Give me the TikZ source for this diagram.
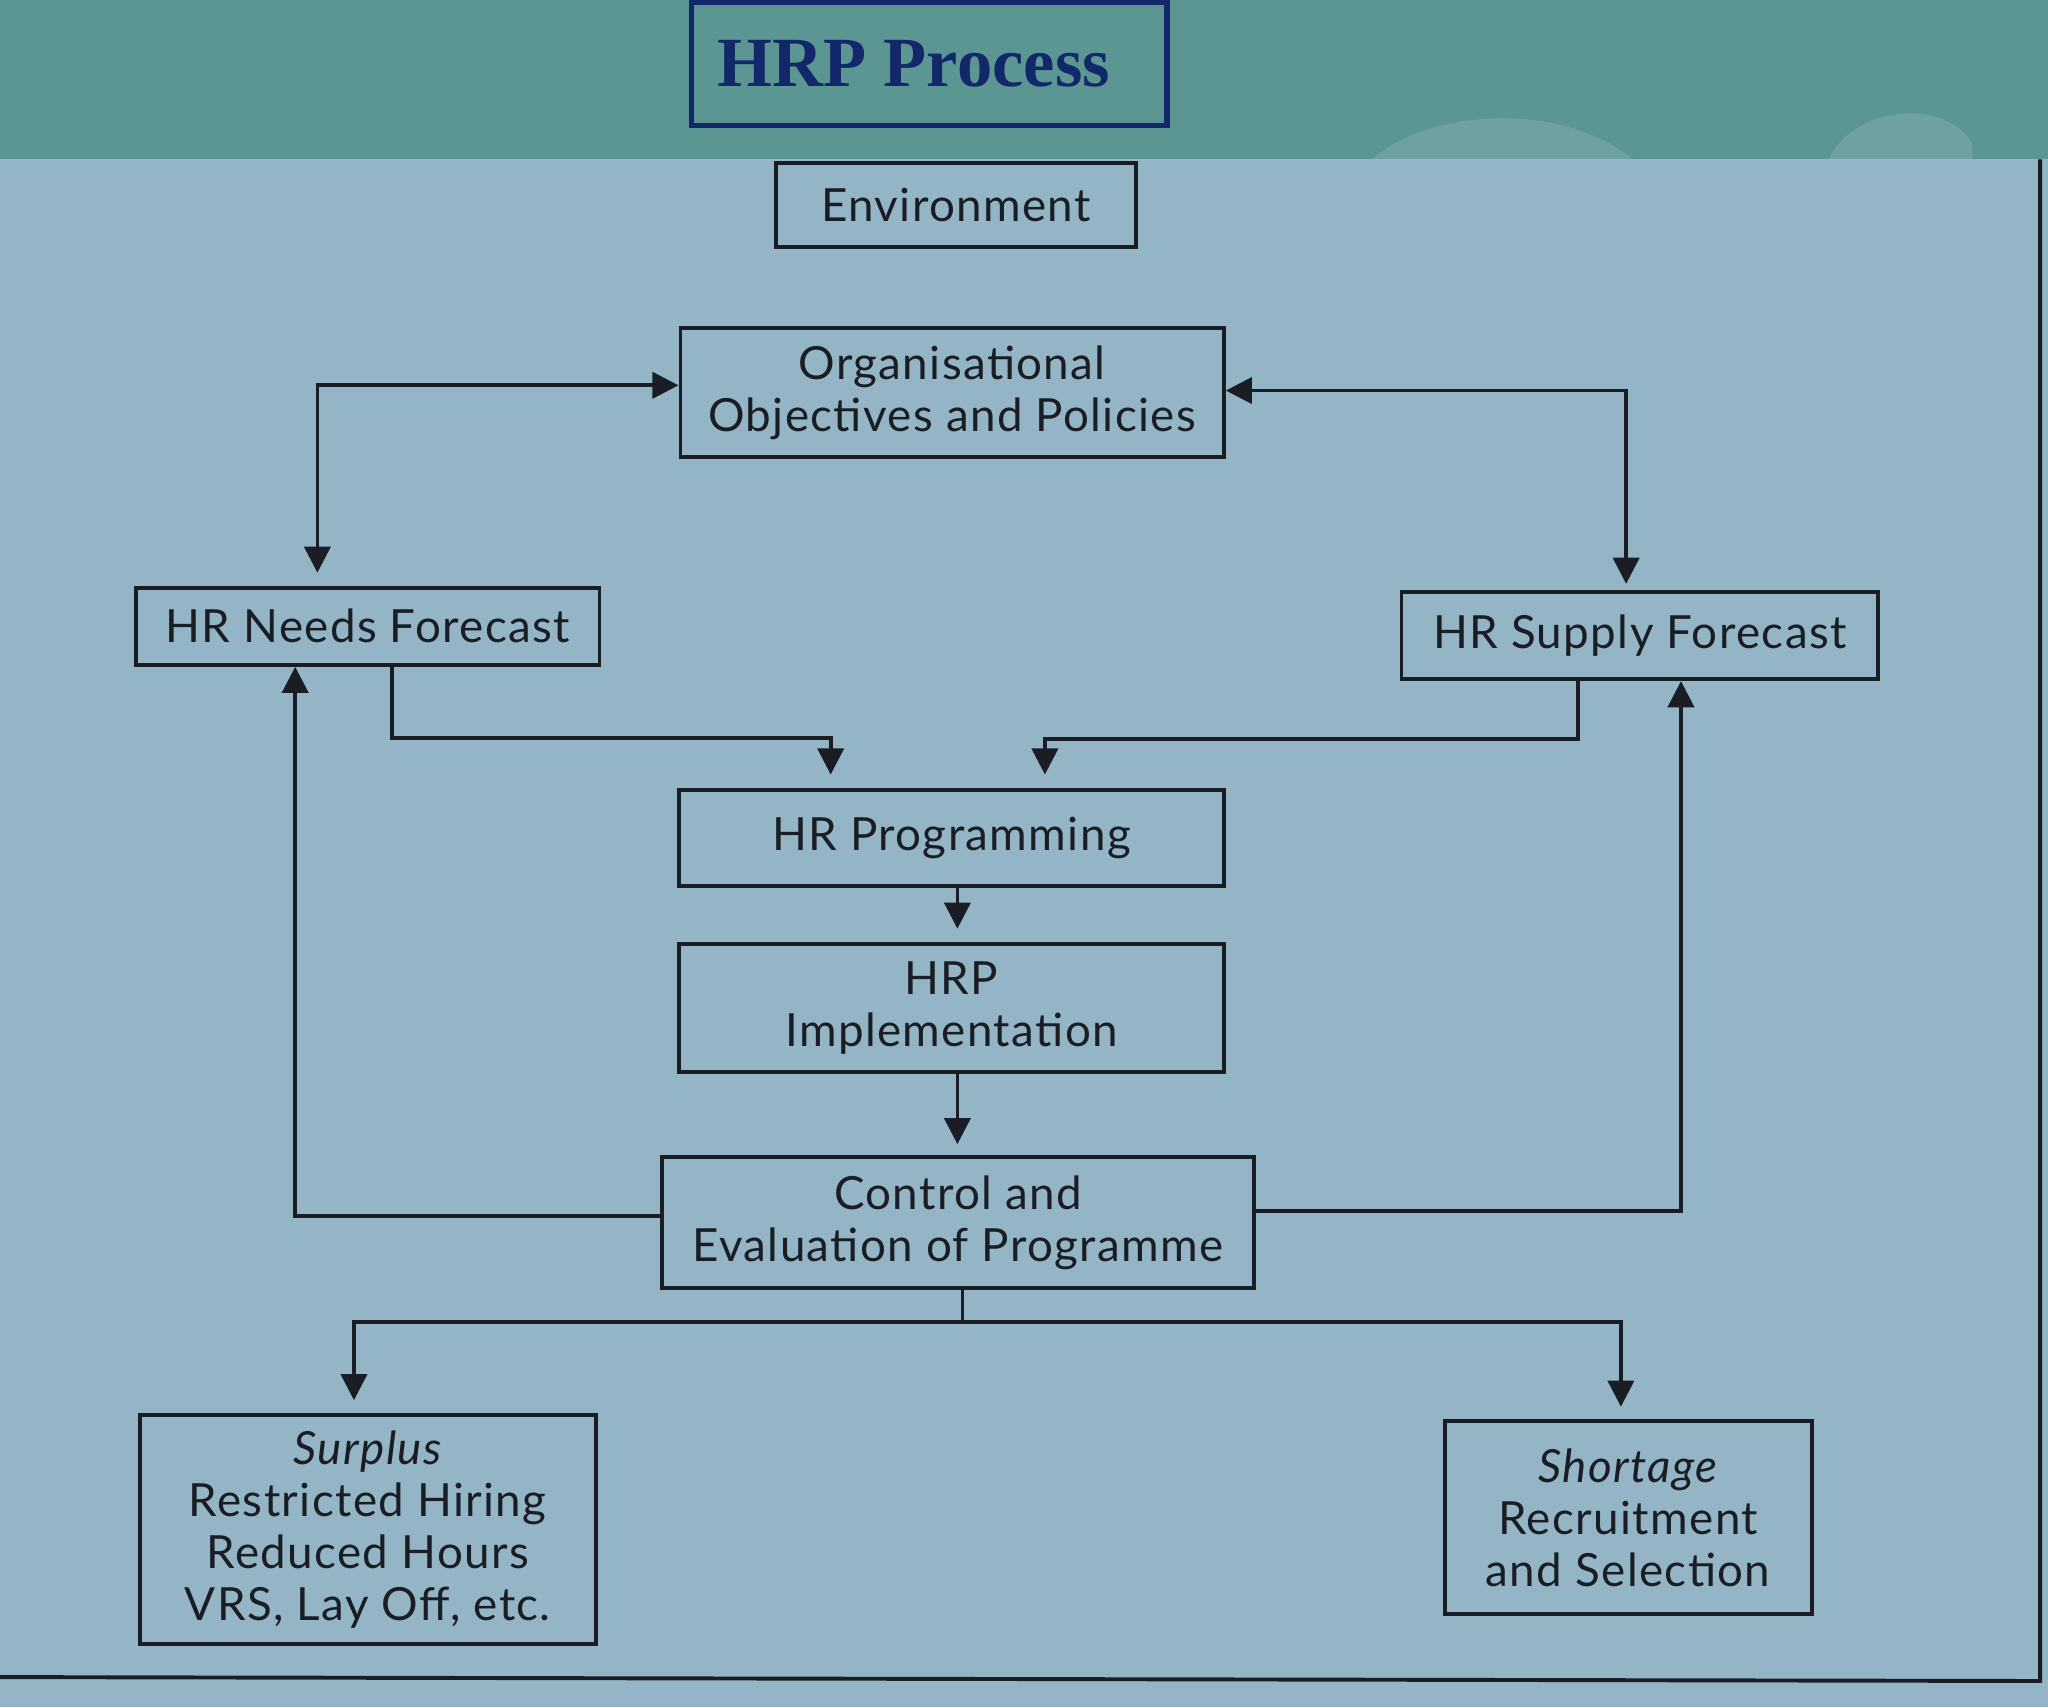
\documentclass[tikz,border=0pt]{standalone}
\usepackage{fontspec}
\setmainfont{Liberation Serif}
\newfontfamily\boxfont{Lato}
\usetikzlibrary{arrows.meta}
\definecolor{band}{HTML}{5B9693}
\definecolor{paper}{HTML}{94B5C5}
\definecolor{ink}{HTML}{1A1E24}
\definecolor{navy}{HTML}{13286B}
\begin{document}
\begin{tikzpicture}[x=0.5pt,y=-0.5pt,
  bx/.style={draw=ink,line width=1.5pt,align=center,inner sep=0pt,font=\boxfont\fontsize{17.5}{20}\selectfont\addfontfeature{LetterSpace=3},text=ink},
  ar/.style={draw=ink,line width=1.4pt,-{Triangle[length=10pt,width=10pt]}},
  ln/.style={draw=ink,line width=1.4pt}]
\fill[paper] (0,0) rectangle (1568,1307);
\useasboundingbox (0,0) rectangle (1568,1307);
\fill[band] (0,0) rectangle (1568,122);
\fill[white,opacity=0.12] (1050,122) .. controls (1100,80) and (1200,80) .. (1250,122) -- cycle;
\fill[white,opacity=0.12] (1400,122) .. controls (1420,80) and (1490,75) .. (1510,110) -- (1510,122) -- cycle;
\node[draw=navy,line width=2pt,minimum width=182pt,minimum height=47pt,text=navy,font=\bfseries\fontsize{27}{30}\selectfont] (title) at (711.5,49) {\hspace*{-12pt}HRP Process};
\draw[ink,line width=1.5pt] (1562,122) -- (1562,1287) -- (0,1284);
\node[bx,minimum width=138pt,minimum height=32pt] (env) at (732,157) {Environment};
\node[bx,minimum width=208pt,minimum height=49.5pt] (org) at (729,300.5) {Organisational\\Objectives and Policies};
\node[bx,minimum width=177.5pt,minimum height=29.5pt] (need) at (281.5,479.5) {HR Needs Forecast};
\node[bx,minimum width=182.5pt,minimum height=33.5pt] (sup) at (1255.5,486.5) {HR Supply Forecast};
\node[bx,minimum width=208.5pt,minimum height=36.5pt] (prog) at (728.5,641.5) {HR Programming};
\node[bx,minimum width=208.5pt,minimum height=49pt] (impl) at (728.5,772) {HRP\\Implementation};
\node[bx,minimum width=226.5pt,minimum height=50pt] (ctrl) at (733.5,936) {Control and\\Evaluation of Programme};
\node[bx,minimum width=174.5pt,minimum height=88pt] (surp) at (281.5,1171) {\itshape Surplus\\Restricted Hiring\\Reduced Hours\\VRS, Lay Off, etc.};
\node[bx,minimum width=140.5pt,minimum height=74pt] (short) at (1246.5,1162) {\itshape Shortage\\Recruitment\\and Selection};
% org <-> needs / supply
\draw[ar,{Triangle[length=10pt,width=10pt]}-{Triangle[length=10pt,width=10pt]}] (need.north -| 243,0) ++(0,-10) |- (org.west |- 0,295);
\draw[ar,{Triangle[length=10pt,width=10pt]}-{Triangle[length=10pt,width=10pt]}] (org.east |- 0,299) -| (1245,447);
% forecasts -> programming
\draw[ar] (need.south -| 300,0) |- (636,565) -- (636,593);
\draw[ar] (sup.south -| 1208,0) |- (800,566) -- (800,593);
\draw[ar] (prog.south -| 733,0) -- (733,711);
\draw[ar] (impl.south -| 733,0) -- (733,876);
% feedback
\draw[ar] (ctrl.west |- 0,931) -| (need.south -| 226,0);
\draw[ar] (ctrl.east |- 0,927) -| (sup.south -| 1287,0);
% outcomes
\coordinate (split) at (737,1012);
\draw[ln] (ctrl.south -| 737,0) -- (split);
\draw[ar] (split) -| (271,1072);
\draw[ar] (split) -| (1241,1077);
\end{tikzpicture}
\end{document}
